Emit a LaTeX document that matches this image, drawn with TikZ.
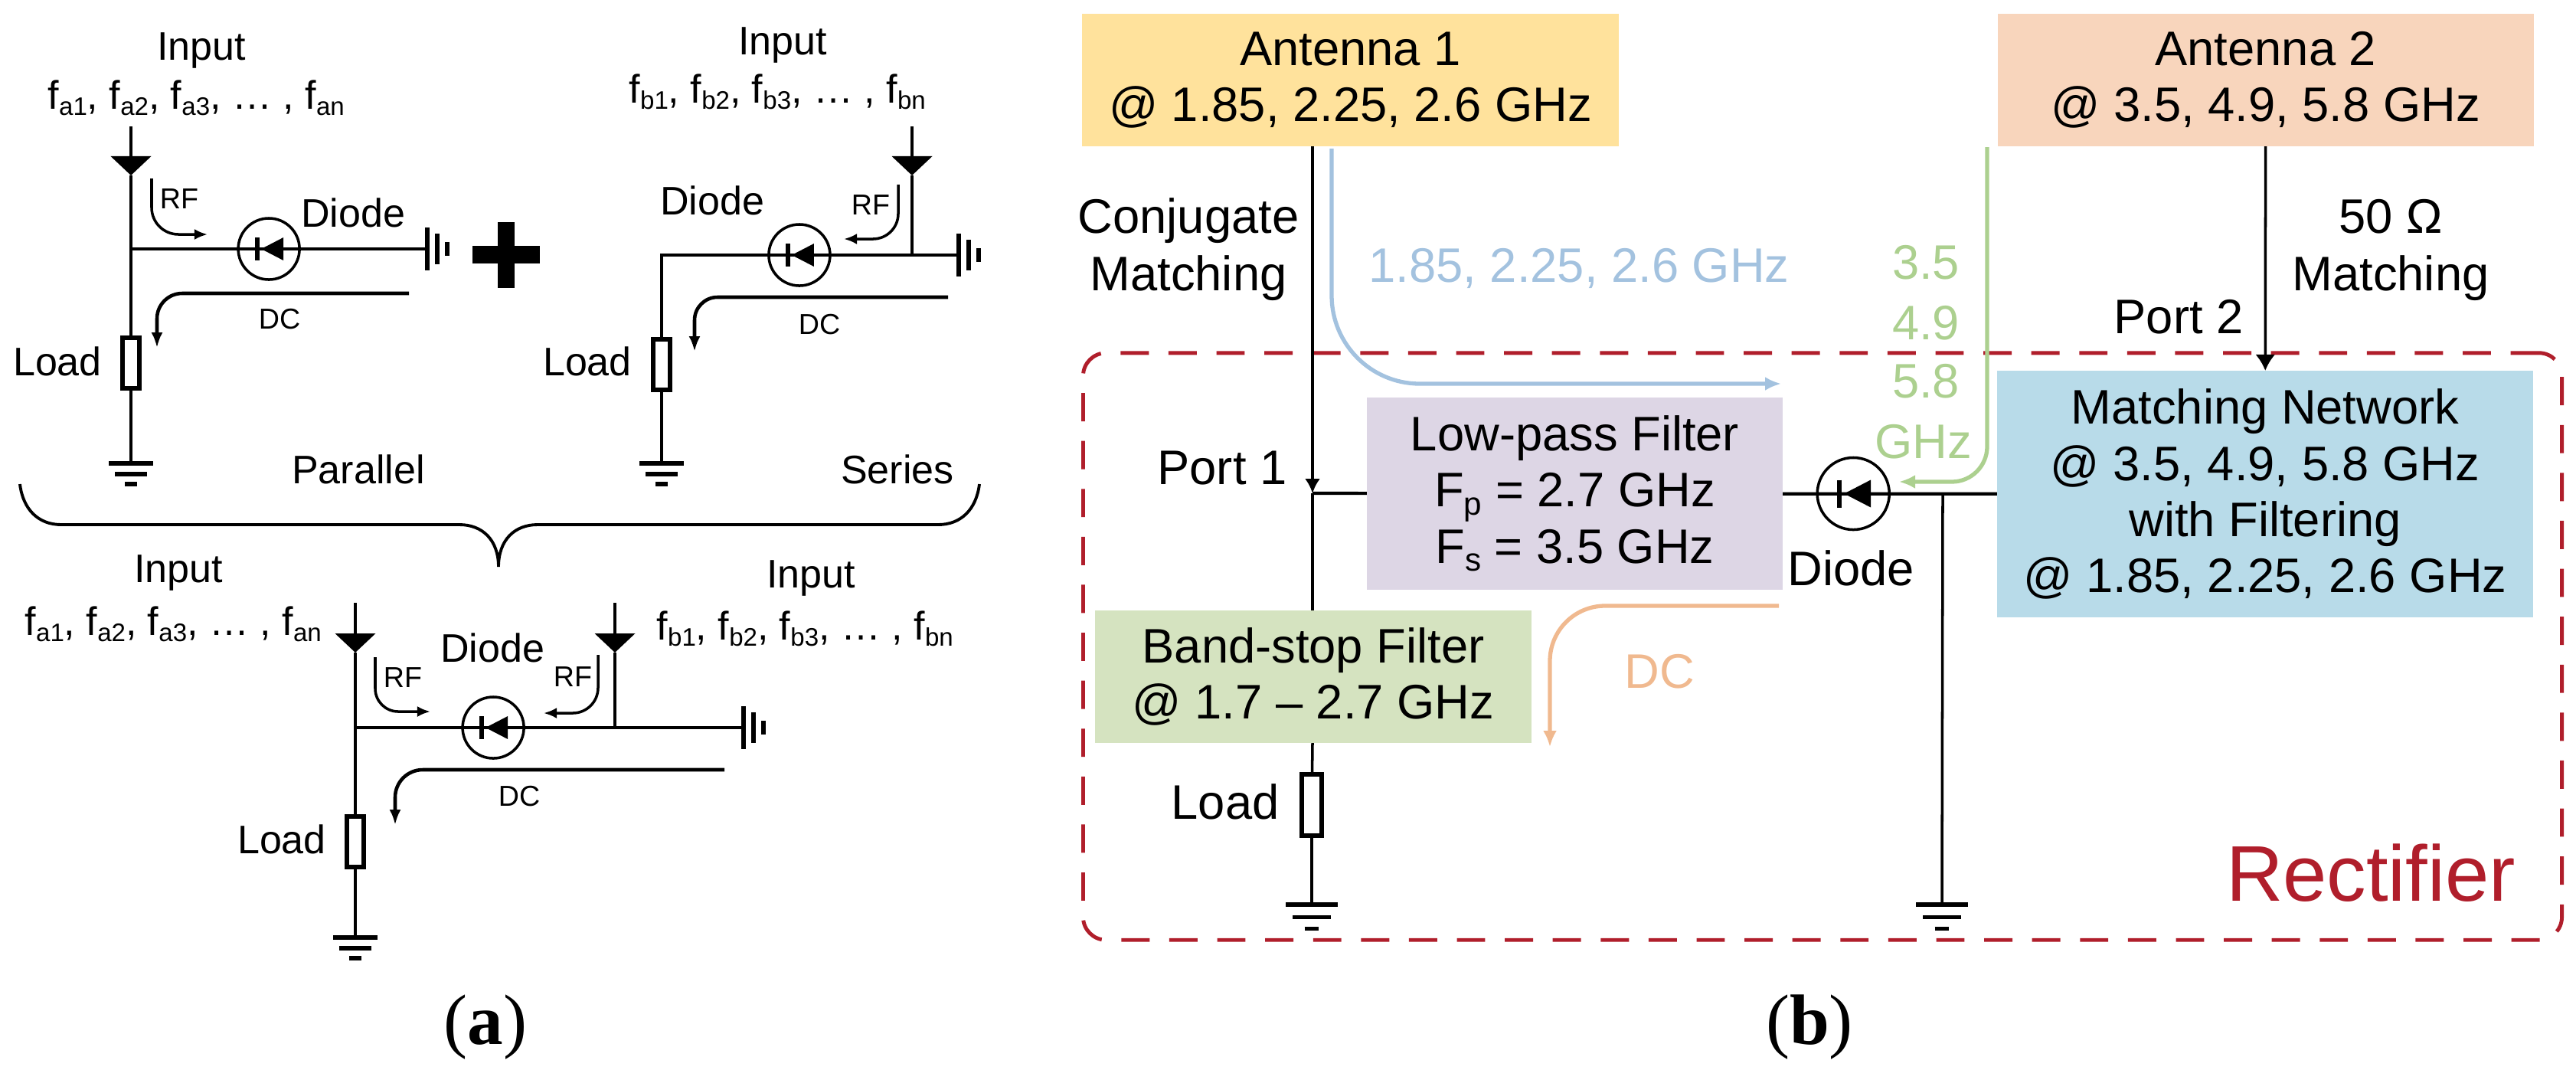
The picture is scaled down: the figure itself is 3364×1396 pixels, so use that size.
\documentclass[tikz,border=0pt]{standalone}
\usepackage{fontspec}
\setmainfont{Liberation Sans}
\newfontfamily\capfont{Liberation Serif}
\usetikzlibrary{arrows.meta}

\definecolor{antyellow}{HTML}{FFE29C}
\definecolor{antorange}{HTML}{F8D5BC}
\definecolor{netblue}{HTML}{B8DBE9}
\definecolor{lpfgray}{HTML}{DDD6E5}
\definecolor{bsfgreen}{HTML}{D5E3C0}
\definecolor{rfblue}{HTML}{A3C2DF}
\definecolor{rfgreen}{HTML}{ACD08F}
\definecolor{dcorange}{HTML}{F0B98F}
\definecolor{rectred}{HTML}{B01E2B}

\tikzstyle{lbl} = [anchor=base, inner sep=0pt, font=\fontsize{14.8}{17}\selectfont]
\tikzstyle{lblw} = [lbl, anchor=base west]
\tikzstyle{tiny} = [lbl, font=\fontsize{10.7}{12}\selectfont]
\tikzstyle{big} = [lbl, font=\fontsize{18}{20.8}\selectfont]
\tikzstyle{block} = [rectangle, inner sep=0pt, outer sep=0pt, align=center, font=\fontsize{18}{20.8}\selectfont]
\tikzstyle{loadbox} = [rectangle, draw, line width=1.7pt, inner sep=0pt, minimum width=.22cm, minimum height=.66cm]
\tikzstyle{diode} = [circle, draw, line width=1pt, inner sep=0pt, minimum size=.8cm]
\tikzstyle{line} = [draw, line width=1pt]
\tikzstyle{gndbar} = [draw, line width=1.6pt]
\tikzstyle{inarrow} = [draw, line width=1.3pt, -{Triangle[length=.25cm,width=.52cm]}]
\tikzstyle{flow} = [draw, line width=1.3pt, -{Latex[length=.2cm,width=.15cm]}]
\tikzstyle{rfflow} = [draw, line width=1pt, -{Latex[length=.17cm,width=.14cm]}]
\tikzstyle{cflow} = [draw, line width=1.5pt, -{Latex[length=.21cm,width=.18cm]}]

\newcommand{\fsub}[1]{f\raisebox{-2.3pt}{\fontsize{9.4}{9.4}\selectfont #1}}
\newcommand{\gndv}[2]{\begin{scope}[shift={(#1)},scale=#2]
    \draw[gndbar] (-29,0) -- (29,0);
    \draw[gndbar] (-21,14) -- (21,14);
    \draw[gndbar] (-8,27) -- (8,27);
\end{scope}}
\newcommand{\gndh}[1]{\begin{scope}[shift={(#1)}]
    \draw[gndbar] (0,-28) -- (0,28);
    \draw[gndbar] (13,-20) -- (13,20);
    \draw[gndbar] (26,-9) -- (26,9);
\end{scope}}
\newcommand{\dmark}[2]{\begin{scope}[shift={(#1)},scale=#2]
    \draw[gndbar] (-15,-15) -- (-15,15);
    \fill (-10,0) -- (19,-15) -- (19,15) -- cycle;
\end{scope}}

\begin{document}
\begin{tikzpicture}[x=0.01cm,y=-0.01cm]
    \useasboundingbox (0,0) rectangle (3364,1396);

    % Parallel circuit
    \coordinate (in_a) at (171,165);
    \coordinate (tip_a) at (171,229);
    \coordinate (join_a) at (171,325);
    \node [diode, right of=join_a, node distance=1.8cm] (diode_a) {};
    \node [loadbox, below of=join_a, node distance=1.49cm] (load_a) {};
    \coordinate [below of=load_a, node distance=1.31cm] (gnd_a);
    \coordinate (gndh_a) at (558,325);
    \node [lbl] (input_a) at (263,78) {Input};
    \node [lblw] (freq_a) at (62,142) {\fsub{a1}, \fsub{a2}, \fsub{a3}, … , \fsub{an}};
    \node [tiny] (rf_a) at (234,272) {RF};
    \node [lbl] (diodetxt_a) at (461,296) {Diode};
    \node [tiny] (dc_a) at (365,429) {DC};
    \node [lbl] (loadtxt_a) at (75,490) {Load};
    \node [lbl] (parallel) at (468,631) {Parallel};
    \coordinate (rf_a_s) at (198,233);
    \coordinate (rf_a_e) at (271,306);
    \coordinate (dc_a_s) at (534,383);
    \coordinate (dc_a_e) at (205,454);

    % Draw edges
    \path [inarrow] (in_a) -- (tip_a);
    \path [line] (tip_a) -- (load_a);
    \path [line] (load_a) -- (gnd_a);
    \path [line] (join_a) -- (gndh_a);
    \gndv{gnd_a}{1}
    \gndh{gndh_a}
    \dmark{diode_a}{1}
    \path [rfflow, rounded corners=.35cm] (rf_a_s) |- (rf_a_e);
    \path [flow, rounded corners=.33cm] (dc_a_s) -| (dc_a_e);

    % Plus sign
    \fill (617,321) rectangle (705,344);
    \fill (650,290) rectangle (672,376);

    % Series circuit
    \coordinate (in_b) at (1191,165);
    \coordinate (tip_b) at (1191,229);
    \coordinate (join_b) at (1191,333);
    \coordinate (corner_b) at (864,333);
    \node [diode, left of=join_b, node distance=1.47cm] (diode_b) {};
    \node [loadbox, below of=corner_b, node distance=1.425cm] (load_b) {};
    \coordinate [below of=load_b, node distance=1.295cm] (gnd_b);
    \coordinate (gndh_b) at (1252,333);
    \node [lbl] (input_b) at (1022,71) {Input};
    \node [lblw] (freq_b) at (821,134) {\fsub{b1}, \fsub{b2}, \fsub{b3}, … , \fsub{bn}};
    \node [tiny] (rf_b) at (1137,280) {RF};
    \node [lbl] (diodetxt_b) at (930,280) {Diode};
    \node [tiny] (dc_b) at (1070,436) {DC};
    \node [lbl] (loadtxt_b) at (767,490) {Load};
    \node [lbl] (series) at (1172,631) {Series};
    \coordinate (rf_b_s) at (1173,241);
    \coordinate (rf_b_e) at (1102,312);
    \coordinate (dc_b_s) at (1238,388);
    \coordinate (dc_b_e) at (907,459);

    \path [inarrow] (in_b) -- (tip_b);
    \path [line] (tip_b) -- (join_b);
    \path [line] (gndh_b) -- (corner_b) -- (load_b);
    \path [line] (load_b) -- (gnd_b);
    \gndv{gnd_b}{1}
    \gndh{gndh_b}
    \dmark{diode_b}{1}
    \path [rfflow, rounded corners=.33cm] (rf_b_s) |- (rf_b_e);
    \path [flow, rounded corners=.3cm] (dc_b_s) -| (dc_b_e);

    % Brace
    \coordinate (brace_l) at (26,632);
    \coordinate (brace_r) at (1279,632);
    \coordinate (brace_tip) at (651,740);
    \draw [line width=1.1pt] (brace_l) .. controls (30,665) and (50,685) .. (80,685) -- (600,685)
        .. controls (630,685) and (651,705) .. (brace_tip)
        .. controls (651,705) and (672,685) .. (702,685) -- (1225,685)
        .. controls (1255,685) and (1275,665) .. (brace_r);

    % Combined circuit
    \coordinate (in_c) at (464,787);
    \coordinate (tip_c) at (464,852);
    \coordinate (join_c) at (464,950);
    \coordinate (in_d) at (803,787);
    \coordinate (tip_d) at (803,852);
    \coordinate (join_d) at (803,950);
    \node [diode, right of=join_c, node distance=1.8cm] (diode_c) {};
    \node [loadbox, below of=join_c, node distance=1.485cm] (load_c) {};
    \coordinate [below of=load_c, node distance=1.255cm] (gnd_c);
    \coordinate (gndh_c) at (971,950);
    \node [lbl] (input_c) at (233,760) {Input};
    \node [lbl] (input_d) at (1059,767) {Input};
    \node [lblw] (freq_c) at (32,829) {\fsub{a1}, \fsub{a2}, \fsub{a3}, … , \fsub{an}};
    \node [lblw] (freq_d) at (857,835) {\fsub{b1}, \fsub{b2}, \fsub{b3}, … , \fsub{bn}};
    \node [lbl] (diodetxt_c) at (643,864) {Diode};
    \node [tiny] (rf_c) at (526,897) {RF};
    \node [tiny] (rf_d) at (748,896) {RF};
    \node [tiny] (dc_c) at (678,1052) {DC};
    \node [lbl] (loadtxt_c) at (368,1114) {Load};
    \coordinate (rf_c_s) at (490,858);
    \coordinate (rf_c_e) at (562,929);
    \coordinate (rf_d_s) at (781,855);
    \coordinate (rf_d_e) at (710,931);
    \coordinate (dc_c_s) at (946,1005);
    \coordinate (dc_c_e) at (516,1077);

    \path [inarrow] (in_c) -- (tip_c);
    \path [inarrow] (in_d) -- (tip_d);
    \path [line] (tip_c) -- (load_c);
    \path [line] (load_c) -- (gnd_c);
    \path [line] (tip_d) -- (join_d);
    \path [line] (join_c) -- (gndh_c);
    \gndv{gnd_c}{1}
    \gndh{gndh_c}
    \dmark{diode_c}{1}
    \path [rfflow, rounded corners=.3cm] (rf_c_s) |- (rf_c_e);
    \path [rfflow, rounded corners=.33cm] (rf_d_s) |- (rf_d_e);
    \path [flow, rounded corners=.36cm] (dc_c_s) -| (dc_c_e);

    \node [font=\capfont\fontsize{26.5}{30}\selectfont, anchor=base, inner sep=0pt] (cap_a) at (634,1363) {(\textbf{a})};
    \node [font=\capfont\fontsize{26.5}{30}\selectfont, anchor=base, inner sep=0pt] (cap_b) at (2363,1363) {(\textbf{b})};

    % Rectifier frame
    \node [rectangle, draw=rectred, line width=1.4pt, dash pattern=on 10.5pt off 7.3pt, rounded corners=.3cm,
        inner sep=0pt, minimum width=19.3cm, minimum height=7.66cm] (rect_frame) at (2380,844) {};
    \node [lbl, text=rectred, font=\fontsize{29.3}{33}\selectfont] (rectifier) at (3096,1176) {Rectifier};

    % Place nodes
    \node [block, fill=antyellow, minimum width=7.01cm, minimum height=1.73cm] (antenna_1) at (1763.5,104.5) {Antenna 1\\ @ 1.85, 2.25, 2.6 GHz};
    \node [block, fill=antorange, minimum width=7cm, minimum height=1.73cm, right of=antenna_1, node distance=11.945cm] (antenna_2) {Antenna 2\\ @ 3.5, 4.9, 5.8 GHz};
    \node [block, fill=netblue, minimum width=7cm, minimum height=3.22cm] (matching_net) at (2958,645) {Matching Network\\ @ 3.5, 4.9, 5.8 GHz\\ with Filtering\\ @ 1.85, 2.25, 2.6 GHz};
    \node [block, fill=lpfgray, minimum width=5.43cm, minimum height=2.51cm] (low_pass) at (2056.5,644.5) {Low-pass Filter\\ F\raisebox{-3pt}{\fontsize{12}{12}\selectfont p} = 2.7 GHz\\ F\raisebox{-3pt}{\fontsize{12}{12}\selectfont s} = 3.5 GHz};
    \node [block, fill=bsfgreen, minimum width=5.7cm, minimum height=1.73cm] (band_stop) at (1715,883.5) {Band-stop Filter\\ @ 1.7 – 2.7 GHz};

    \coordinate (top_p1) at (1714,191);
    \coordinate (join_p1) at (1714,644);
    \coordinate (join_g) at (2537,644);
    \coordinate (gnd_e) at (1713,1181);
    \coordinate (gnd_f) at (2536,1181);
    \node [diode, minimum size=.94cm, right of=low_pass, node distance=3.635cm] (diode_e) {};
    \node [loadbox, minimum width=.26cm, minimum height=.8cm] (load_e) at (1713,1051) {};

    \node [big] (conj) at (1552,304) {Conjugate};
    \node [big] (conj_m) at (1552,379) {Matching};
    \node [big] (port_1) at (1596,632) {Port 1};
    \node [big] (port_2) at (2845,435) {Port 2};
    \node [big] (ohm) at (3122,304) {50 Ω};
    \node [big] (ohm_m) at (3122,379) {Matching};
    \node [big] (diodetxt_e) at (2417,764) {Diode};
    \node [big] (loadtxt_e) at (1600,1069) {Load};
    \node [big, text=rfblue] (rf_low) at (2062,368) {1.85, 2.25, 2.6 GHz};
    \node [big, text=rfgreen] (rf_35) at (2515,364) {3.5};
    \node [big, text=rfgreen] (rf_49) at (2515,443) {4.9};
    \node [big, text=rfgreen] (rf_58) at (2515,519) {5.8};
    \node [big, text=rfgreen] (rf_ghz) at (2512,598) {GHz};
    \node [big, text=dcorange] (dc_e) at (2167,898) {DC};

    \coordinate (blue_s) at (1739,194);
    \coordinate (blue_e) at (2326,501);
    \coordinate (green_s) at (2595,192);
    \coordinate (green_e) at (2480,629);
    \coordinate (orange_s) at (2323,791);
    \coordinate (orange_e) at (2024,975);

    % Draw edges
    \path [draw, line width=1pt, -{Latex[length=.19cm,width=.2cm]}] (top_p1) -- (join_p1);
    \path [line] (join_p1) -- (band_stop.north -| join_p1);
    \path [line] (band_stop.south -| join_p1) -- (load_e);
    \path [line] (load_e) -- (gnd_e);
    \path [line, line width=1.2pt] (join_p1) -- (low_pass);
    \path [line, line width=1.2pt] (low_pass) -- (matching_net);
    \path [line] (join_g) -- (gnd_f);
    \path [draw, line width=1pt, -{Latex[length=.21cm,width=.26cm]}] (antenna_2) -- (matching_net);
    \gndv{gnd_e}{1.17}
    \gndv{gnd_f}{1.17}
    \dmark{diode_e}{1.2}
    \path [cflow, draw=rfblue, fill=none, rounded corners=1.15cm] (blue_s) |- (blue_e);
    \path [cflow, draw=rfgreen, rounded corners=.46cm] (green_s) |- (green_e);
    \path [cflow, draw=dcorange, rounded corners=.72cm] (orange_s) -| (orange_e);

\end{tikzpicture}
\end{document}
